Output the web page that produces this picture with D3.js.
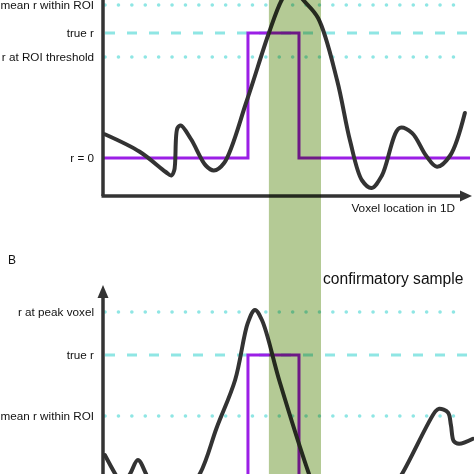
<!DOCTYPE html>
<html>
<head>
<meta charset="utf-8">
<script src="https://cdn.jsdelivr.net/npm/d3@7"></script>
<style>
  body { margin: 0; background: #fff; }
  svg { display: block; font-family: "Liberation Sans", Arial, sans-serif; }
</style>
</head>
<body>
<script>
// reference levels (r units, true r = 1)
const topLevels = [1.224, 1, 0.808, 0];
const topLabels = ["mean r within ROI", "true r", "r at ROI threshold", "r = 0"];
const bottomLevels = [1.344, 1, 0.512];
const bottomLabels = ["r at peak voxel", "true r", "mean r within ROI"];

// true signal profile (purple step)
const trueVoxel = [0, 39.5, 39.5, 53.4, 53.4, 100];
const trueR = [0, 0, 1, 1, 0, 0];

// peak voxel band
const bandVoxel = [45.2, 59.4];

// observed r along the voxel axis, panel A
const obsVoxelA = [0.5, 10, 17, 18.6, 19.4, 20.3, 21.2, 24, 28, 30.2, 33, 39.2, 45.2, 48.8, 51.6, 54.4, 58.6, 63.8, 67.3, 70.6, 73.2, 76, 80.8, 84.2, 88, 91, 94.6, 98.6];
const obsRA     = [0.19, 0.05, -0.11, -0.14, -0.1, 0.24, 0.26, 0.15, -0.06, -0.1, -0.04, 0.46, 1.0, 1.27, 1.38, 1.27, 1.12, 0.62, 0.14, -0.18, -0.24, -0.14, 0.24, 0.2, 0.02, -0.07, 0.02, 0.36];

// observed r along the voxel axis, panel B (confirmatory sample)
const obsVoxelB = [0.5, 3.3, 5.2, 7.4, 9.5, 11.7, 13.5, 20, 26.4, 31, 36, 39.5, 41.4, 43.3, 48.2, 56.1, 58, 68, 78, 81.5, 90.6, 91.6, 94, 94.8, 95.6, 97, 100.8];
const obsRB     = [0.2, 0.05, -0.04, 0.05, 0.16, 0.05, -0.08, -0.2, 0.05, 0.42, 0.8, 1.26, 1.36, 1.28, 0.78, 0.05, -0.1, -0.35, -0.1, 0.05, 0.55, 0.57, 0.54, 0.44, 0.31, 0.29, 0.33];

const width = 474;
const height = 474;
const axisX = 103;

const svg = d3.select('body').append('svg').attr('width', width).attr('height', height);

const x = d3.scaleLinear().domain([0, 100]).range([axisX, 470]);
const yTop = d3.scaleLinear().domain([0, 1]).range([158, 33]);
const yBot = d3.scaleLinear().domain([0, 1]).range([480, 355]);

const cyan = '#8fe6e4';
const purple = '#9b1fe6';
const ink = '#333';

function refLines(g, y, levels, labels) {
  levels.forEach((lv, i) => {
    if (labels[i] === 'r = 0') return;
    const dashed = labels[i] === 'true r';
    g.append('line')
      .attr('x1', axisX + 2).attr('x2', dashed ? 470 : 462)
      .attr('y1', y(lv)).attr('y2', y(lv))
      .attr('stroke', cyan)
      .attr('stroke-width', dashed ? 3 : 3.5)
      .attr('stroke-linecap', dashed ? 'butt' : 'round')
      .attr('stroke-dasharray', dashed ? '10,12' : '0.1,13.3');
  });
  const ax = d3.axisLeft(y).tickValues(levels).tickSize(0).tickPadding(9)
    .tickFormat((d, i) => labels[i]);
  const a = g.append('g').attr('transform', `translate(${axisX},0)`).call(ax);
  a.select('.domain').remove();
  a.selectAll('text').attr('font-size', 11.7).attr('fill', '#111')
    .attr('font-family', '"Liberation Sans", Arial, sans-serif');
}

function stepLine(g, y) {
  const pts = trueVoxel.map((v, i) => [v, trueR[i]]);
  g.append('path')
    .attr('d', d3.line().x(d => x(d[0])).y(d => y(d[1]))(pts))
    .attr('fill', 'none').attr('stroke', purple).attr('stroke-width', 3);
}

function obsLine(g, y, vs, rs) {
  const pts = vs.map((v, i) => [v, rs[i]]);
  g.append('path')
    .attr('d', d3.line().x(d => x(d[0])).y(d => y(d[1])).curve(d3.curveCatmullRom.alpha(0.5))(pts))
    .attr('fill', 'none').attr('stroke', ink).attr('stroke-width', 4)
    .attr('stroke-linejoin', 'round').attr('stroke-linecap', 'round');
}

// panel A
const gA = svg.append('g');
refLines(gA, yTop, topLevels, topLabels);
stepLine(gA, yTop);
obsLine(gA, yTop, obsVoxelA, obsRA);

// panel B
const gB = svg.append('g');
refLines(gB, yBot, bottomLevels, bottomLabels);
stepLine(gB, yBot);
obsLine(gB, yBot, obsVoxelB, obsRB);

// axes
svg.append('line').attr('x1', axisX).attr('x2', axisX).attr('y1', -2).attr('y2', 196)
  .attr('stroke', ink).attr('stroke-width', 3.5);
svg.append('line').attr('x1', axisX - 1.5).attr('x2', 462).attr('y1', 196).attr('y2', 196)
  .attr('stroke', ink).attr('stroke-width', 3.5);
svg.append('path').attr('d', 'M460,190.5L472,196L460,201.5Z').attr('fill', ink);

svg.append('line').attr('x1', axisX).attr('x2', axisX).attr('y1', 296).attr('y2', 476)
  .attr('stroke', ink).attr('stroke-width', 3.5);
svg.append('path').attr('d', 'M97.5,298L103,285L108.5,298Z').attr('fill', ink);

// peak voxel band across both panels
svg.append('rect')
  .attr('x', x(bandVoxel[0])).attr('width', x(bandVoxel[1]) - x(bandVoxel[0]))
  .attr('y', 0).attr('height', height)
  .attr('fill', '#b4ca95')
  .style('mix-blend-mode', 'multiply');

// texts
svg.append('text').attr('x', 455).attr('y', 212).attr('text-anchor', 'end')
  .attr('font-size', 11.8).attr('fill', '#111').text('Voxel location in 1D');
svg.append('text').attr('x', 8).attr('y', 264)
  .attr('font-size', 12).attr('fill', '#111').text('B');
svg.append('text').attr('x', 323).attr('y', 284)
  .attr('font-size', 15.6).attr('fill', '#111').text('confirmatory sample');
</script>
</body>
</html>
